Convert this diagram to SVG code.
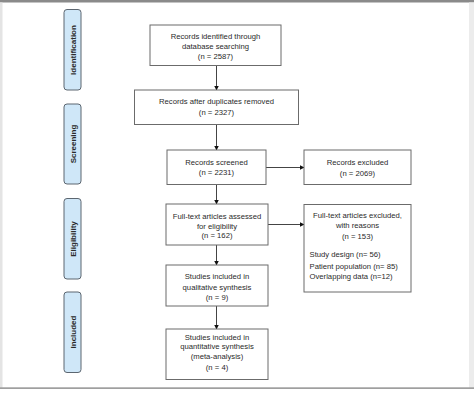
<svg xmlns="http://www.w3.org/2000/svg" width="474" height="401" viewBox="0 0 474 401">
<defs>
<marker id="ah" markerWidth="5" markerHeight="5" refX="4.5" refY="2.5" orient="auto" markerUnits="userSpaceOnUse">
<path d="M0,0 L5,2.5 L0,5 Z" fill="#111"/>
</marker>
<style>
.box{fill:#fff;stroke:#6b6b6b;stroke-width:1}
.side{fill:#cfe7f8;stroke:#5c6670;stroke-width:1}
.t{font-family:"Liberation Sans",Arial,sans-serif;font-size:7.7px;fill:#2a2a2a;text-anchor:middle}
.l{text-anchor:start}
.s{font-family:"Liberation Sans",Arial,sans-serif;font-size:8px;font-weight:bold;fill:#2a2a2a;text-anchor:middle}
.c{stroke:#444;stroke-width:1;fill:none;marker-end:url(#ah)}
</style>
</defs>
<rect width="474" height="401" fill="#fff"/>
<rect x="0" y="0" width="474" height="2.5" fill="#8a8a8a"/>
<rect x="0" y="2.5" width="2.5" height="385" fill="#e4e4e4"/>
<rect x="469" y="2.5" width="5" height="385" fill="#ececec"/>
<rect x="0" y="387.5" width="474" height="1.2" fill="#777"/>

<g id="side-identification"><rect class="side" x="64" y="9.5" width="17" height="80.5" rx="3"/><text class="s" transform="translate(75.5,50) rotate(-90)">Identification</text></g>
<g id="side-screening"><rect class="side" x="64" y="104" width="17" height="80" rx="3"/><text class="s" transform="translate(75.5,144) rotate(-90)">Screening</text></g>
<g id="side-eligibility"><rect class="side" x="64" y="198.5" width="17" height="80.5" rx="3"/><text class="s" transform="translate(75.5,239) rotate(-90)">Eligibility</text></g>
<g id="side-included"><rect class="side" x="64" y="292" width="17" height="80.5" rx="3"/><text class="s" transform="translate(75.5,332) rotate(-90)">Included</text></g>

<g id="connectors">
<line class="c" x1="216.5" y1="65.5" x2="216.5" y2="90"/>
<line class="c" x1="216.5" y1="124.5" x2="216.5" y2="150"/>
<line class="c" x1="216.5" y1="184.5" x2="216.5" y2="204"/>
<line class="c" x1="216.5" y1="245" x2="216.5" y2="265"/>
<line class="c" x1="216.5" y1="306" x2="216.5" y2="329"/>
<line class="c" x1="266" y1="167.5" x2="304" y2="167.5"/>
<line class="c" x1="268" y1="224.5" x2="304" y2="224.5"/>
</g>

<g id="n1"><rect class="box" x="150" y="25" width="131" height="40.5"/>
<text class="t" x="215.5" y="39">Records identified through</text>
<text class="t" x="215.5" y="49">database searching</text>
<text class="t" x="215.5" y="59">(n = 2587)</text></g>

<g id="n2"><rect class="box" x="134.5" y="90" width="164" height="34.5"/>
<text class="t" x="216.5" y="104">Records after duplicates removed</text>
<text class="t" x="216.5" y="114.5">(n = 2327)</text></g>

<g id="n3"><rect class="box" x="167" y="150" width="99" height="34.5"/>
<text class="t" x="216.5" y="164.5">Records screened</text>
<text class="t" x="216.5" y="175">(n = 2231)</text></g>

<g id="n3x"><rect class="box" x="304" y="150" width="107" height="34.5"/>
<text class="t" x="357.5" y="165">Records excluded</text>
<text class="t" x="357.5" y="175.5">(n = 2069)</text></g>

<g id="n4"><rect class="box" x="166" y="204" width="102" height="41"/>
<text class="t" x="217" y="218.5">Full-text articles assessed</text>
<text class="t" x="217" y="228.5">for eligibility</text>
<text class="t" x="217" y="238">(n = 162)</text></g>

<g id="n4x"><rect class="box" x="304" y="204.5" width="107" height="87.5"/>
<text class="t" x="357.5" y="218">Full-text articles excluded,</text>
<text class="t" x="357.5" y="228">with reasons</text>
<text class="t" x="357.5" y="238.5">(n = 153)</text>
<text class="t l" x="309.5" y="257">Study design (n= 56)</text>
<text class="t l" x="309.5" y="268.5">Patient population (n= 85)</text>
<text class="t l" x="309.5" y="278.5">Overlapping data (n=12)</text></g>

<g id="n5"><rect class="box" x="166" y="265" width="102" height="41"/>
<text class="t" x="217" y="279">Studies included in</text>
<text class="t" x="217" y="290">qualitative synthesis</text>
<text class="t" x="217" y="300">(n = 9)</text></g>

<g id="n6"><rect class="box" x="166" y="329" width="102" height="50.5"/>
<text class="t" x="217" y="339.5">Studies included in</text>
<text class="t" x="217" y="349">quantitative synthesis</text>
<text class="t" x="217" y="359">(meta-analysis)</text>
<text class="t" x="217" y="369.5">(n = 4)</text></g>
</svg>
